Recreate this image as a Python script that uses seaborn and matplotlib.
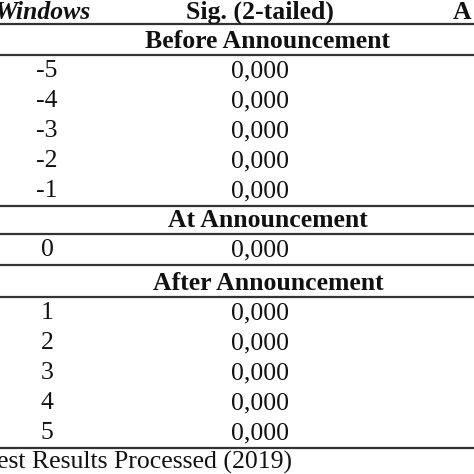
import matplotlib
matplotlib.use("Agg")
import matplotlib.pyplot as plt
import seaborn as sns

# Table content
header = ["Windows", "Sig. (2-tailed)", "A"]
sections = ["Before Announcement", "At Announcement", "After Announcement"]
windows_before = ["-5", "-4", "-3", "-2", "-1"]
windows_at = ["0"]
windows_after = ["1", "2", "3", "4", "5"]
sig_before = ["0,000"] * 5
sig_at = ["0,000"]
sig_after = ["0,000"] * 5
source = "est Results Processed (2019)"

sns.set_style("white")
plt.rcParams["font.family"] = ["Liberation Serif", "DejaVu Serif"]

fig = plt.figure(figsize=(4.74, 4.74), dpi=100)
ax = fig.add_axes([0, 0, 1, 1])
ax.set_xlim(0, 474)
ax.set_ylim(474, 0)
ax.axis("off")

fs = 18.5
col_win, col_sig, col_sec = 47, 260, 268
ink = "#111111"

# header (the reference is cropped at both edges)
ax.text(-6, 12, header[0], fontsize=fs, fontstyle="italic", fontweight="bold", va="center", ha="left", color=ink)
ax.text(col_sig, 12, header[1], fontsize=fs, fontweight="bold", va="center", ha="center", color=ink)
ax.text(453, 12, header[2], fontsize=fs, fontweight="bold", va="center", ha="left", color=ink)

def hline(y):
    ax.plot([0, 474], [y, y], color="#333333", lw=1.6, solid_capstyle="butt")

hline(24)
blocks = [(sections[0], windows_before, sig_before, 41),
          (sections[1], windows_at, sig_at, 220),
          (sections[2], windows_after, sig_after, 283)]
for title, wins, sigs, ytitle in blocks:
    ax.text(col_sec, ytitle, title, fontsize=fs, fontweight="bold", va="center", ha="center", color=ink)
    hline(ytitle + 14)
    y0 = ytitle + 30
    for i, (w, s) in enumerate(zip(wins, sigs)):
        y = y0 + i * 30
        ax.text(col_win, y, w, fontsize=fs, va="center", ha="center", color=ink)
        ax.text(col_sig, y, s, fontsize=fs, va="center", ha="center", color=ink)
    hline(y0 + (len(wins) - 1) * 30 + 15)

ax.text(-3, 462, source, fontsize=fs, va="center", ha="left", color=ink)

fig.savefig("out.png", dpi=100)
